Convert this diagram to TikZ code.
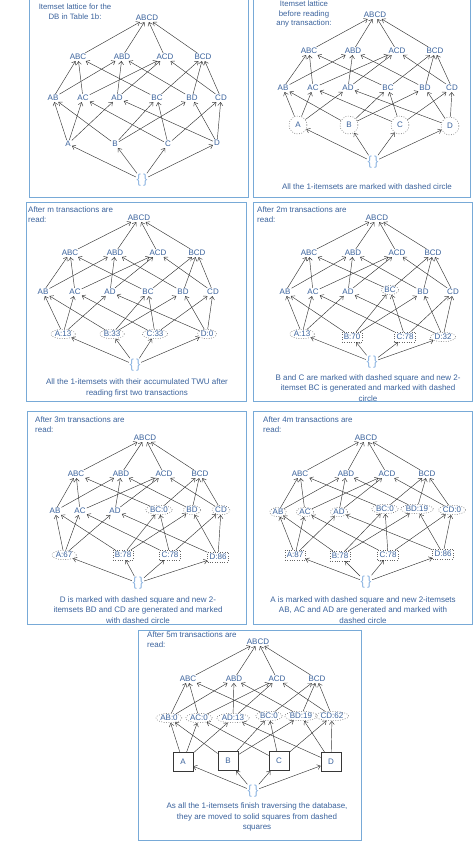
\documentclass[tikz,border=0pt]{standalone}
\usepackage{fontspec}
\setmainfont{Liberation Sans}
\usetikzlibrary{arrows.meta,shapes.geometric}
\definecolor{txtblue}{RGB}{58,98,156}
\definecolor{framecol}{RGB}{120,170,215}
\definecolor{edgecol}{RGB}{55,55,55}
\definecolor{bracecol}{RGB}{140,180,225}
\definecolor{markcol}{RGB}{100,100,100}
\tikzset{
  it/.style={text=txtblue,font=\fontsize{8}{9}\selectfont,inner sep=1pt},
  dotline/.style={draw=markcol,line width=0.5pt,dash pattern=on 0.8pt off 1.6pt},
  dcirc/.style={it,ellipse,dotline,inner sep=0.5pt},
  dsq/.style={it,rectangle,dotline,inner sep=2pt},
  ssq/.style={it,rectangle,draw=edgecol,line width=0.6pt,minimum width=20pt,minimum height=19pt},
  emptyset/.style={text=bracecol,font=\fontsize{13}{13}\selectfont,inner sep=0.5pt},
  edge/.style={draw=edgecol,line width=0.45pt,-{Straight Barb[length=3.2pt,width=5pt]}},
  frame/.style={draw=framecol,line width=0.8pt},
  ttl/.style={text=txtblue,font=\fontsize{8}{10}\selectfont,align=left,anchor=north west,inner sep=0pt},
  captext/.style={text=txtblue,font=\fontsize{8}{10.5}\selectfont,align=center,inner sep=0pt}
}
\newcommand\lattedges[1]{%
  \foreach \s/\t in {E/A,E/B,E/C,E/D,A/AB,A/AC,A/AD,B/AB,B/BC,B/BD,C/AC,C/BC,C/CD,D/AD,D/BD,D/CD,AB/ABC,AB/ABD,AC/ABC,AC/ACD,AD/ABD,AD/ACD,BC/ABC,BC/BCD,BD/ABD,BD/BCD,CD/ACD,CD/BCD,ABC/ABCD,ABD/ABCD,ACD/ABCD,BCD/ABCD}
  {\draw[edge] (#1\s) -- (#1\t);}}
\begin{document}
\begin{tikzpicture}[x=1pt,y=-1pt]
\useasboundingbox (0,0) rectangle (474,860);
% ---------- Panel 1 ----------
\draw[frame] (29,-2) rectangle (248,197);
\node[captext,font=\fontsize{7.8}{10}\selectfont] (p1T) at (75,11.5) {Itemset lattice for the\\DB in Table 1b:};
\node[it] (p1ABCD) at (147,18) {ABCD};
\node[it] (p1ABC) at (78,57) {ABC};
\node[it] (p1ABD) at (122,57) {ABD};
\node[it] (p1ACD) at (165,57) {ACD};
\node[it] (p1BCD) at (203,57) {BCD};
\node[it] (p1AB) at (53,98) {AB};
\node[it] (p1AC) at (83,98) {AC};
\node[it] (p1AD) at (117,98) {AD};
\node[it] (p1BC) at (157,98) {BC};
\node[it] (p1BD) at (192,98) {BD};
\node[it] (p1CD) at (221,98) {CD};
\node[it] (p1A) at (68,144) {A};
\node[it] (p1B) at (115,144) {B};
\node[it] (p1C) at (168,144) {C};
\node[it] (p1D) at (217,143) {D};
\node[emptyset] (p1E) at (142,180) {\{\,\}};
\lattedges{p1}
% ---------- Panel 2 ----------
\draw[frame] (253,-2) rectangle (470,197);
\node[captext,font=\fontsize{7.8}{9.5}\selectfont] (p2T) at (304,14) {Itemset lattice\\before reading\\any transaction:};
\node[it] (p2ABCD) at (375,15) {ABCD};
\node[it] (p2ABC) at (309,51) {ABC};
\node[it] (p2ABD) at (353,51) {ABD};
\node[it] (p2ACD) at (397,51) {ACD};
\node[it] (p2BCD) at (435,51) {BCD};
\node[it] (p2AB) at (283,88) {AB};
\node[it] (p2AC) at (313,88) {AC};
\node[it] (p2AD) at (348,88) {AD};
\node[it] (p2BC) at (388,88) {BC};
\node[it] (p2BD) at (425,88) {BD};
\node[it] (p2CD) at (452,88) {CD};
\node[dcirc,minimum size=18pt] (p2A) at (298,125) {A};
\node[dcirc,minimum size=18pt] (p2B) at (349,125) {B};
\node[dcirc,minimum size=18pt] (p2C) at (400,125) {C};
\node[dcirc,minimum size=18pt] (p2D) at (450,126) {D};
\node[emptyset] (p2E) at (373,162) {\{\,\}};
\lattedges{p2}
\node[captext] (p2C1) at (367,187) {All the 1-itemsets are marked with dashed circle};
% ---------- Panel 3 ----------
\draw[frame] (26,202) rectangle (246,401);
\node[ttl] (p3T) at (28,206) {After m transactions are\\read:};
\node[it] (p3ABCD) at (139,218) {ABCD};
\node[it] (p3ABC) at (70,253) {ABC};
\node[it] (p3ABD) at (115,253) {ABD};
\node[it] (p3ACD) at (158,253) {ACD};
\node[it] (p3BCD) at (197,253) {BCD};
\node[it] (p3AB) at (43,292) {AB};
\node[it] (p3AC) at (75,292) {AC};
\node[it] (p3AD) at (110,292) {AD};
\node[it] (p3BC) at (148,292) {BC};
\node[it] (p3BD) at (183,292) {BD};
\node[it] (p3CD) at (213,292) {CD};
\node[dcirc] (p3A) at (63,334) {A:13};
\node[dcirc] (p3B) at (112,334) {B:33};
\node[dcirc] (p3C) at (155,334) {C:33};
\node[dcirc] (p3D) at (207,334) {D:0};
\node[emptyset] (p3E) at (135,365) {\{\,\}};
\lattedges{p3}
\node[captext] (p3C1) at (137,388) {All the 1-itemsets with their accumulated TWU after\\reading first two transactions};
% ---------- Panel 4 ----------
\draw[frame] (253,202) rectangle (472,401);
\node[ttl] (p4T) at (257,206) {After 2m transactions are\\read:};
\node[it] (p4ABCD) at (377,218) {ABCD};
\node[it] (p4ABC) at (309,253) {ABC};
\node[it] (p4ABD) at (353,253) {ABD};
\node[it] (p4ACD) at (397,253) {ACD};
\node[it] (p4BCD) at (433,253) {BCD};
\node[it] (p4AB) at (285,292) {AB};
\node[it] (p4AC) at (313,292) {AC};
\node[it] (p4AD) at (348,292) {AD};
\node[dcirc] (p4BC) at (390,290) {BC};
\node[it] (p4BD) at (423,292) {BD};
\node[it] (p4CD) at (453,292) {CD};
\node[dcirc] (p4A) at (302,334) {A:13};
\node[dsq] (p4B) at (352,337) {B:70};
\node[dsq] (p4C) at (405,337) {C:78};
\node[dcirc] (p4D) at (443,337) {D:32};
\node[emptyset] (p4E) at (372,362) {\{\,\}};
\lattedges{p4}
\node[captext] (p4C1) at (368,388) {B and C are marked with dashed square and new 2-\\itemset BC is generated and marked with dashed\\circle};
% ---------- Panel 5 ----------
\draw[frame] (27,411) rectangle (246,624);
\node[ttl] (p5T) at (35,416) {After 3m transactions are\\read:};
\node[it] (p5ABCD) at (145,438) {ABCD};
\node[it] (p5ABC) at (76,474) {ABC};
\node[it] (p5ABD) at (121,474) {ABD};
\node[it] (p5ACD) at (164,474) {ACD};
\node[it] (p5BCD) at (200,474) {BCD};
\node[it] (p5AB) at (55,511) {AB};
\node[it] (p5AC) at (80,511) {AC};
\node[it] (p5AD) at (115,511) {AD};
\node[dcirc] (p5BC) at (159,510) {BC:0};
\node[dcirc] (p5BD) at (192,510) {BD};
\node[dcirc] (p5CD) at (221,510) {CD};
\node[dcirc] (p5A) at (64,555) {A:67};
\node[dsq] (p5B) at (123,555) {B:78};
\node[dsq] (p5C) at (170,555) {C:78};
\node[dsq] (p5D) at (218,557) {D:86};
\node[emptyset] (p5E) at (138,583) {\{\,\}};
\lattedges{p5}
\node[captext] (p5C1) at (138,610) {D is marked with dashed square and new 2-\\itemsets BD and CD are generated and marked\\with dashed circle};
% ---------- Panel 6 ----------
\draw[frame] (253,411) rectangle (472,624);
\node[ttl] (p6T) at (263,416) {After 4m transactions are\\read:};
\node[it] (p6ABCD) at (366,438) {ABCD};
\node[it] (p6ABC) at (300,474) {ABC};
\node[it] (p6ABD) at (346,474) {ABD};
\node[it] (p6ACD) at (387,474) {ACD};
\node[it] (p6BCD) at (427,474) {BCD};
\node[dcirc] (p6AB) at (278,512) {AB};
\node[dcirc] (p6AC) at (305,512) {AC};
\node[dcirc] (p6AD) at (339,512) {AD};
\node[dcirc] (p6BC) at (385,509) {BC:0};
\node[dcirc] (p6BD) at (417,509) {BD:19};
\node[dcirc] (p6CD) at (452,510) {CD:0};
\node[dsq] (p6A) at (295,555) {A:87};
\node[dsq] (p6B) at (340,556) {B:78};
\node[dsq] (p6C) at (388,555) {C:78};
\node[dsq] (p6D) at (443,554) {D:86};
\node[emptyset] (p6E) at (366,582) {\{\,\}};
\lattedges{p6}
\node[captext] (p6C1) at (363,610) {A is marked with dashed square and new 2-itemsets\\AB, AC and AD are generated and marked with\\dashed circle};
% ---------- Panel 7 ----------
\draw[frame] (138,630) rectangle (361,840);
\node[ttl] (p7T) at (147,631) {After 5m transactions are\\read:};
\node[it] (p7ABCD) at (258,642) {ABCD};
\node[it] (p7ABC) at (188,679) {ABC};
\node[it] (p7ABD) at (234,679) {ABD};
\node[it] (p7ACD) at (277,679) {ACD};
\node[it] (p7BCD) at (317,679) {BCD};
\node[dcirc] (p7AB) at (169,718) {AB:0};
\node[dcirc] (p7AC) at (199,718) {AC:0};
\node[dcirc] (p7AD) at (233,718) {AD:13};
\node[dcirc] (p7BC) at (269,716) {BC:0};
\node[dcirc] (p7BD) at (301,716) {BD:19};
\node[dcirc] (p7CD) at (332,716) {CD:62};
\node[ssq] (p7A) at (183,762) {A};
\node[ssq] (p7B) at (228,761) {B};
\node[ssq] (p7C) at (279,761) {C};
\node[ssq] (p7D) at (331,762) {D};
\node[emptyset] (p7E) at (253,791) {\{\,\}};
\lattedges{p7}
\node[captext] (p7C1) at (257,817) {As all the 1-itemsets finish traversing the database,\\they are moved to solid squares from dashed\\squares};
\end{tikzpicture}
\end{document}
